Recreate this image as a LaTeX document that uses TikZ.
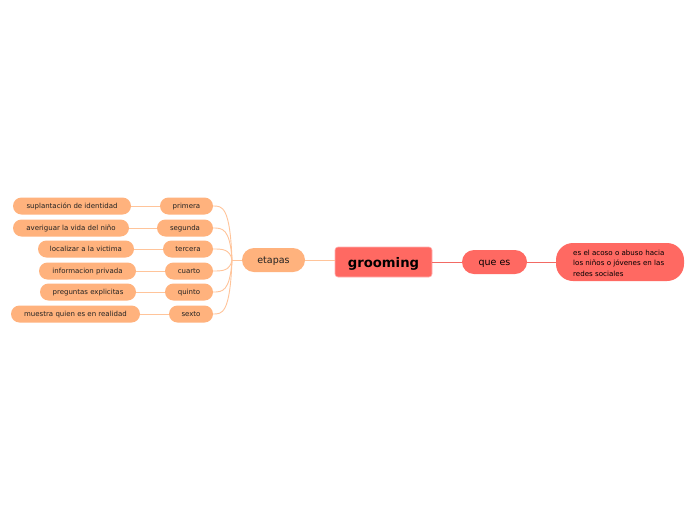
\documentclass[tikz,border=0pt]{standalone}
\usepackage{fontspec}
\setmainfont{DejaVu Sans}
\usetikzlibrary{calc}
\definecolor{orfill}{HTML}{FFB27D}
\definecolor{orline}{HTML}{FFC49A}
\definecolor{redfill}{HTML}{FF6962}
\definecolor{redline}{HTML}{F26A64}
\definecolor{txt}{HTML}{222222}
\begin{document}
\begin{tikzpicture}[x=1pt,y=-1pt,
  small/.style={fill=orfill,draw=none,rounded corners=8.5pt,minimum height=17pt,inner sep=0pt,font=\fontsize{7}{8}\selectfont,text=txt,text height=6pt,text depth=0.8pt},
  mid/.style={fill=orfill,draw=none,rounded corners=12pt,minimum height=24pt,minimum width=63pt,inner sep=0pt,font=\fontsize{9.5}{11}\selectfont,text=txt,text height=8.5pt,text depth=1.5pt},
  redmid/.style={mid,fill=redfill,minimum width=65pt,text=black},
  root/.style={fill=redfill,draw=red!30,line width=0.6pt,rounded corners=3pt,minimum height=30pt,minimum width=97pt,inner sep=0pt,font=\fontsize{13.2}{15}\selectfont\bfseries,text=black,text height=12pt,text depth=2pt},
  desc/.style={fill=redfill,draw=none,rounded corners=17pt,minimum height=38pt,minimum width=128pt,inner sep=0pt,text=black},
  orcon/.style={draw=orline,line width=0.9pt},
  redcon/.style={draw=redline,line width=0.9pt}]
\useasboundingbox (0,0) rectangle (696,520);
\fill[white] (0,0) rectangle (696,520);

\node[root] (grooming) at (383.5,262) {grooming};
\node[mid] (etapas) at (273.5,260) {etapas};
\node[redmid] (quees) at (494.5,262) {que es};
\node[desc] (desc) at (620,262) {};
\node[anchor=west,font=\fontsize{7.1}{10.5}\selectfont,align=left,inner sep=0pt,text=black] (desctext) at (573,263) {es el acoso o abuso hacia\\los niños o jóvenes en las\\redes sociales};

\node[small,minimum width=53pt] (primera) at (186.5,206) {primera};
\node[small,minimum width=56pt] (segunda) at (185,228) {segunda};
\node[small,minimum width=50pt] (tercera) at (188,249) {tercera};
\node[small,minimum width=48pt] (cuarto) at (189,271) {cuarto};
\node[small,minimum width=48pt] (quinto) at (189,292) {quinto};
\node[small,minimum width=44pt] (sexto) at (191,314) {sexto};

\node[small,minimum width=118pt] (l1) at (72,206) {suplantación de identidad};
\node[small,minimum width=116pt] (l2) at (71,228) {averiguar la vida del niño};
\node[small,minimum width=96pt] (l3) at (86,249) {localizar a la victima};
\node[small,minimum width=97pt] (l4) at (87.5,271) {informacion privada};
\node[small,minimum width=96pt] (l5) at (88,292) {preguntas explicitas};
\node[small,minimum width=129pt] (l6) at (75.5,314) {muestra quien es en realidad};

\coordinate (hub) at (232,260);
\draw[orcon] (etapas.east) -- (etapas.east -| grooming.west);
\draw[redcon] (grooming.east) -- (quees.west);
\draw[redcon] (quees.east) -- (desc.west);
\draw[orcon] (etapas.west) -- (hub);
\foreach \s in {primera,segunda,tercera,cuarto,quinto,sexto}{
  \draw[orcon] (hub) .. controls ($(hub |- \s.east)+(-2,0)$) and ($(\s.east)+(9,0)$) .. (\s.east);
}
\draw[orcon] (l1.east) -- (primera.west);
\draw[orcon] (l2.east) -- (segunda.west);
\draw[orcon] (l3.east) -- (tercera.west);
\draw[orcon] (l4.east) -- (cuarto.west);
\draw[orcon] (l5.east) -- (quinto.west);
\draw[orcon] (l6.east) -- (sexto.west);
\end{tikzpicture}
\end{document}
